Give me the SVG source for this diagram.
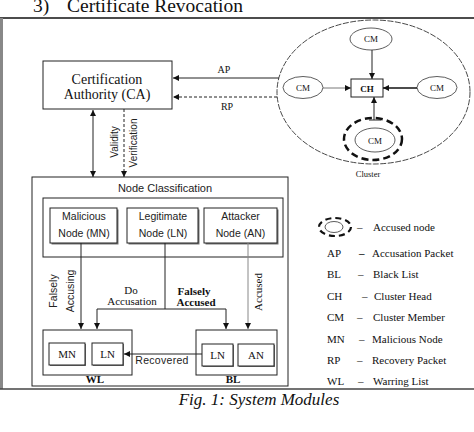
<svg xmlns="http://www.w3.org/2000/svg" width="474" height="432" viewBox="0 0 474 432">
<defs>
<style>
.serif{font-family:"Liberation Serif","Times New Roman",serif;fill:#111}
.sans{font-family:"Liberation Sans",Arial,sans-serif;fill:#222}
.box{fill:#fff;stroke:#222;stroke-width:1}
.frame{fill:none;stroke:#222;stroke-width:1}
.shadow{fill:#777;stroke:none}
.ln{stroke:#222;stroke-width:1;fill:none}
.dash{stroke:#222;stroke-width:1;fill:none;stroke-dasharray:3 2}
.cm{fill:#fff;stroke:#333;stroke-width:0.8}
</style>
<marker id="ah" markerWidth="7" markerHeight="6" refX="6" refY="3" orient="auto-start-reverse" markerUnits="userSpaceOnUse"><path d="M0,0 L6,3 L0,6 z" fill="#111"/></marker>
</defs>
<rect x="0" y="0" width="474" height="432" fill="#fff"/>

<g id="title">
<text class="serif" x="33" y="11.5" font-size="19.5">3)</text>
<text class="serif" x="67" y="11.5" font-size="19.5">Certificate Revocation</text>
</g>

<g id="frame">
<line x1="0" y1="18" x2="474" y2="18" stroke="#111" stroke-width="1.4"/>
<rect x="0" y="18" width="3" height="371" fill="#888"/>
<line x1="0" y1="389" x2="474" y2="389" stroke="#444" stroke-width="1.4"/>
</g>

<g id="ca">
<rect class="box" x="43" y="61" width="129" height="48" stroke="#333" stroke-width="1.2"/>
<text class="serif" x="107" y="84" font-size="14" text-anchor="middle">Certification</text>
<text class="serif" x="107" y="99" font-size="14" text-anchor="middle">Authority (CA)</text>
</g>

<g id="cluster">
<ellipse cx="373.5" cy="92" rx="96.5" ry="72" fill="none" stroke="#333" stroke-width="0.9" stroke-dasharray="6 1.5"/>
<text class="serif" x="368" y="177" font-size="8.5" text-anchor="middle">Cluster</text>
</g>
<g id="cm-top">
<ellipse class="cm" cx="371" cy="39" rx="21" ry="11"/>
<text class="serif" x="371" y="42" font-size="9" text-anchor="middle">CM</text>
</g>
<g id="cm-left">
<ellipse class="cm" cx="303" cy="87.5" rx="20" ry="11"/>
<text class="serif" x="303" y="91" font-size="9" text-anchor="middle">CM</text>
</g>
<g id="cm-right">
<ellipse class="cm" cx="437" cy="87.5" rx="20" ry="11"/>
<text class="serif" x="437" y="91" font-size="9" text-anchor="middle">CM</text>
</g>
<g id="ch">
<rect class="box" x="351" y="79" width="32" height="18" stroke="#111" stroke-width="1.2"/>
<text class="serif" x="367" y="91.5" font-size="9" text-anchor="middle" font-weight="bold">CH</text>
</g>
<g id="cm-bottom">
<ellipse cx="373" cy="139" rx="29" ry="21" fill="none" stroke="#111" stroke-width="2.5" stroke-dasharray="7 4"/>
<ellipse class="cm" cx="375" cy="140" rx="20" ry="12"/>
<text class="serif" x="375" y="143.5" font-size="9" text-anchor="middle">CM</text>
</g>

<g id="node-classification">
<rect class="frame" x="32" y="177" width="256" height="209" stroke="#777"/>
<text class="sans" x="165" y="192" font-size="11" text-anchor="middle">Node Classification</text>
<rect class="frame" x="43" y="198" width="240" height="59"/>
</g>
<g id="malicious">
<rect class="shadow" x="51.5" y="209.5" width="67" height="35"/>
<rect class="box" x="50" y="208" width="67" height="35"/>
<text class="sans" x="84" y="220" font-size="10.5" text-anchor="middle" fill="#333">Malicious</text>
<text class="sans" x="84" y="237" font-size="10.5" text-anchor="middle" fill="#333">Node (MN)</text>
</g>
<g id="legitimate">
<rect class="shadow" x="128.5" y="209.5" width="71" height="35"/>
<rect class="box" x="127" y="208" width="71" height="35"/>
<text class="sans" x="163" y="220" font-size="10.5" text-anchor="middle" fill="#666">Legitimate</text>
<text class="sans" x="163" y="237" font-size="10.5" text-anchor="middle" fill="#333">Node (LN)</text>
</g>
<g id="attacker">
<rect class="shadow" x="205.5" y="209.5" width="73" height="35"/>
<rect class="box" x="204" y="208" width="73" height="35"/>
<text class="sans" x="240.5" y="220" font-size="10.5" text-anchor="middle" fill="#444">Attacker</text>
<text class="sans" x="240.5" y="237" font-size="10.5" text-anchor="middle" fill="#444">Node (AN)</text>
</g>

<g id="wl">
<rect class="box" x="43" y="330" width="89" height="45" stroke="#555"/>
<text class="serif" x="95" y="383" font-size="11" text-anchor="middle" font-weight="bold">WL</text>
</g>
<g id="wl-mn">
<rect class="shadow" x="50" y="344" width="36" height="22"/>
<rect class="box" x="49" y="343" width="36" height="22"/>
<text class="serif" x="67" y="358" font-size="11" text-anchor="middle">MN</text>
</g>
<g id="wl-ln">
<rect class="shadow" x="93" y="344" width="31" height="22"/>
<rect class="box" x="92" y="343" width="31" height="22"/>
<text class="serif" x="107.5" y="358" font-size="11" text-anchor="middle">LN</text>
</g>
<g id="bl">
<rect class="box" x="196" y="330" width="81" height="45" stroke="#555"/>
<text class="serif" x="233" y="383" font-size="11" text-anchor="middle" font-weight="bold">BL</text>
</g>
<g id="bl-ln">
<rect class="shadow" x="203" y="345" width="31" height="22"/>
<rect class="box" x="202" y="344" width="31" height="22"/>
<text class="serif" x="217.5" y="359" font-size="11" text-anchor="middle">LN</text>
</g>
<g id="bl-an">
<rect class="shadow" x="239" y="345" width="36" height="22"/>
<rect class="box" x="238" y="344" width="36" height="22"/>
<text class="serif" x="256" y="359" font-size="11" text-anchor="middle">AN</text>
</g>

<g id="connectors">
<line class="ln" x1="279" y1="78" x2="173" y2="78" marker-end="url(#ah)"/>
<line class="dash" x1="277" y1="97" x2="173" y2="97" marker-end="url(#ah)"/>
<line class="ln" x1="93" y1="110" x2="93" y2="177" marker-start="url(#ah)" marker-end="url(#ah)"/>
<line class="dash" x1="124" y1="109" x2="124" y2="177" marker-end="url(#ah)"/>
<line class="ln" x1="81" y1="243" x2="81" y2="329" marker-end="url(#ah)"/>
<line class="ln" x1="165" y1="243" x2="165" y2="309"/>
<path class="ln" d="M165,309 H97 V329" marker-end="url(#ah)"/>
<path class="ln" d="M165,309 H226 V329" marker-end="url(#ah)"/>
<line x1="248" y1="243" x2="248" y2="329" stroke="#888" stroke-width="1" marker-end="url(#ah)"/>
<line class="ln" x1="202" y1="354" x2="124" y2="354" marker-end="url(#ah)"/>
<line class="ln" x1="372" y1="50" x2="372" y2="79" marker-end="url(#ah)"/>
<line x1="323" y1="88" x2="351" y2="88" stroke="#555" stroke-width="0.8" marker-end="url(#ah)"/>
<line x1="417" y1="88" x2="383" y2="88" stroke="#111" stroke-width="1.4" marker-end="url(#ah)"/>
<line class="ln" x1="374" y1="120" x2="374" y2="97" marker-end="url(#ah)"/>
<line class="ln" x1="369" y1="120" x2="381" y2="120"/>
</g>

<g id="labels">
<text class="serif" x="224" y="73" font-size="10" text-anchor="middle">AP</text>
<text class="serif" x="227" y="110" font-size="10" text-anchor="middle">RP</text>
<text class="sans" transform="translate(118,142) rotate(-90)" font-size="10" text-anchor="middle" fill="#444">Validity</text>
<text class="sans" transform="translate(137,143) rotate(-90)" font-size="10" text-anchor="middle" fill="#444">Verification</text>
<text class="sans" transform="translate(57,291) rotate(-90)" font-size="10.5" text-anchor="middle" fill="#555">Falsely</text>
<text class="sans" transform="translate(74,291) rotate(-90)" font-size="10.5" text-anchor="middle" fill="#555">Accusing</text>
<text class="serif" transform="translate(262,292) rotate(-90)" font-size="11" text-anchor="middle" fill="#555">Accused</text>
<text class="serif" x="131" y="294" font-size="11" text-anchor="middle">Do</text>
<text class="serif" x="132" y="305" font-size="11" text-anchor="middle">Accusation</text>
<text class="serif" x="194" y="295" font-size="11" text-anchor="middle" font-weight="bold">Falsely</text>
<text class="serif" x="196" y="306" font-size="11" text-anchor="middle" font-weight="bold">Accused</text>
<text class="sans" x="162" y="364" font-size="10.5" text-anchor="middle" letter-spacing="0.3">Recovered</text>
</g>

<g id="legend">
<ellipse cx="335" cy="227" rx="16" ry="9" fill="none" stroke="#111" stroke-width="2.2" stroke-dasharray="6 4"/>
<ellipse cx="334" cy="227" rx="9" ry="5.5" fill="none" stroke="#333" stroke-width="0.8"/>
<text class="serif" x="357" y="231" font-size="11">–</text>
<text class="serif" x="373" y="231" font-size="11">Accused node</text>
<g font-size="11">
<text class="serif" x="327" y="257">AP</text><text class="serif" x="359" y="257" font-weight="bold">–</text><text class="serif" x="372" y="257">Accusation Packet</text>
<text class="serif" x="327" y="278">BL</text><text class="serif" x="358" y="278">–</text><text class="serif" x="373" y="278">Black List</text>
<text class="serif" x="327" y="300">CH</text><text class="serif" x="362" y="300">–</text><text class="serif" x="374" y="300">Cluster Head</text>
<text class="serif" x="327" y="321">CM</text><text class="serif" x="357" y="321">–</text><text class="serif" x="373" y="321">Cluster Member</text>
<text class="serif" x="327" y="343">MN</text><text class="serif" x="359" y="343">–</text><text class="serif" x="372" y="343">Malicious Node</text>
<text class="serif" x="327" y="364">RP</text><text class="serif" x="357" y="364">–</text><text class="serif" x="372" y="364">Recovery Packet</text>
<text class="serif" x="327" y="385">WL</text><text class="serif" x="358" y="385">–</text><text class="serif" x="373" y="385">Warring List</text>
</g>
</g>

<g id="caption">
<text class="serif" x="259" y="405" font-size="17" font-style="italic" text-anchor="middle">Fig. 1: System Modules</text>
</g>
</svg>
